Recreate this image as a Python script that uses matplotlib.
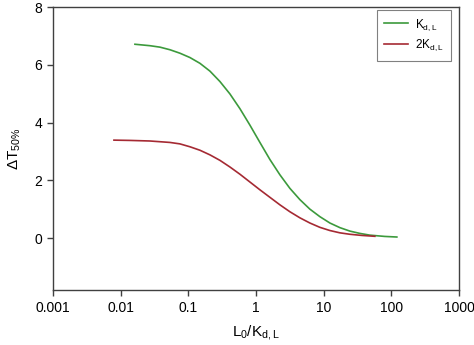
import matplotlib
matplotlib.use("Agg")
import matplotlib.pyplot as plt
from matplotlib.ticker import FixedLocator, FixedFormatter, NullLocator

plt.rcParams['font.family'] = ['Liberation Sans', 'DejaVu Sans']
plt.rcParams['mathtext.fontset'] = 'custom'
plt.rcParams['mathtext.rm'] = 'Liberation Sans'
plt.rcParams['mathtext.it'] = 'Liberation Sans:italic'

# ΔT50% versus L0/Kd,L for two dissociation constants
x_kd = [0.01626, 0.02709, 0.03806, 0.05349, 0.07515, 0.1056, 0.1484, 0.2085,
        0.2929, 0.4116, 0.5783, 0.8126, 1.142, 1.604, 2.254, 3.168, 4.451,
        6.254, 8.788, 12.35, 17.35, 24.38, 34.25, 48.13, 80.2, 120.6]
y_kd = [6.71, 6.66, 6.61, 6.52, 6.40, 6.25, 6.05, 5.78,
        5.42, 4.99, 4.48, 3.91, 3.31, 2.72, 2.19, 1.72, 1.33,
        1.00, 0.74, 0.52, 0.36, 0.24, 0.16, 0.10, 0.055, 0.035]

x_2kd = [0.00796, 0.01372, 0.02709, 0.05349, 0.07515, 0.1056, 0.1484, 0.2085,
         0.2929, 0.4116, 0.5783, 0.8126, 1.142, 1.604, 2.254, 3.168, 4.451,
         6.254, 8.788, 12.35, 17.35, 24.38, 36.67, 57.05]
y_2kd = [3.39, 3.38, 3.36, 3.31, 3.26, 3.16, 3.04, 2.88,
         2.69, 2.46, 2.21, 1.94, 1.67, 1.41, 1.15, 0.91, 0.70,
         0.52, 0.37, 0.26, 0.18, 0.13, 0.09, 0.06]

x_ticks = [0.001, 0.01, 0.1, 1, 10, 100, 1000]
x_tick_labels = ['0.001', '0.01', '0.1', '1', '10', '100', '1000']
y_ticks = [0, 2, 4, 6, 8]

fig = plt.figure(figsize=(4.74, 3.45), dpi=100)
ax = fig.add_axes([0.1118, 0.1594, 0.8566, 0.8203])

ax.plot(x_kd, y_kd, color='#3c9a3c', lw=1.2, solid_joinstyle='round',
        label=r'K$_{\mathrm{d,L}}$')
ax.plot(x_2kd, y_2kd, color='#a52a33', lw=1.2, solid_joinstyle='round',
        label=r'2K$_{\mathrm{d,L}}$')

ax.set_xscale('log')
ax.set_xlim(0.001, 1000)
ax.set_ylim(-1.8, 8)
ax.xaxis.set_major_locator(FixedLocator(x_ticks))
ax.xaxis.set_major_formatter(FixedFormatter(x_tick_labels))
ax.xaxis.set_minor_locator(NullLocator())
ax.set_yticks(y_ticks)

for sp in ax.spines.values():
    sp.set_color('#404040')
    sp.set_linewidth(1.0)
ax.tick_params(direction='out', length=4, width=1.0, color='#404040',
               labelsize=10, pad=4, top=False, right=False)

ax.set_xlabel(r'L$_{\mathrm{0}}$/K$_{\mathrm{d,L}}$', fontsize=11, labelpad=6)
ax.set_ylabel(r'ΔT$_{\mathrm{50\%}}$', fontsize=11, labelpad=8)

leg = ax.legend(loc='upper right', bbox_to_anchor=(0.98, 0.99), fontsize=8.5,
                frameon=True, fancybox=False, edgecolor='#606060',
                borderaxespad=0, handlelength=2.0, handletextpad=0.6,
                borderpad=0.6, labelspacing=0.45)
leg.get_frame().set_linewidth(0.8)

fig.savefig('out.png', dpi=100)
